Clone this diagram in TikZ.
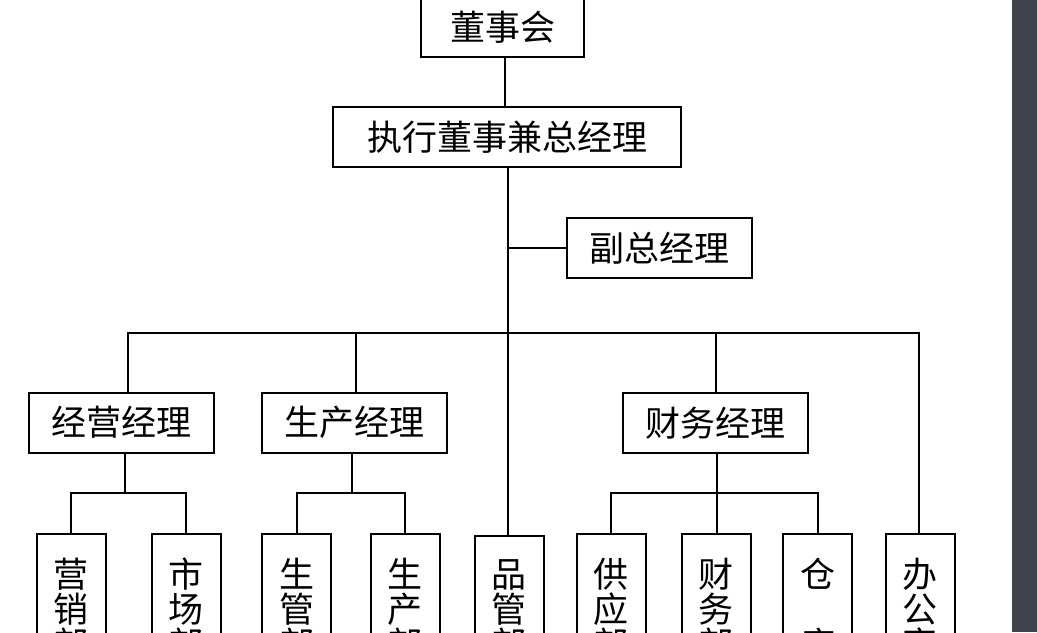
\documentclass[tikz,border=0pt]{standalone}
\usepackage{fontspec}
\newfontfamily\cjk{Noto Sans CJK SC}
\usetikzlibrary{calc}
\definecolor{bandgray}{HTML}{3E434C}
\begin{document}
\begin{tikzpicture}[x=0.75pt,y=-0.75pt,
  box/.style={draw, line width=1.5pt, inner sep=0pt, minimum height=60*0.75pt,
    font=\cjk\fontsize{26.25}{26.25}\selectfont},
  vbox/.style={draw, line width=1.5pt, anchor=north, minimum width=69*0.75pt,
    inner xsep=0pt, inner ysep=18pt, align=center,
    font=\cjk\fontsize{26.25}{26.25}\selectfont},
  conn/.style={line width=1.5pt}]
\fill[white] (0,0) rectangle (1037,632);
\fill[bandgray] (1012,0) rectangle (1037,632);
\useasboundingbox (0,0) rectangle (1037,632);

% top levels
\node[box, minimum width=163*0.75pt] (dsh) at (502.5,27) {董事会};
\node[box, minimum width=348*0.75pt] (zjl) at (507,137) {执行董事兼总经理};
\node[box, minimum width=185*0.75pt] (fzjl) at (659.5,248) {副总经理};
\node[box, minimum width=185*0.75pt] (jy) at (121.8,422.7) {经营经理};
\node[box, minimum width=185*0.75pt] (sc) at (354,422.7) {生产经理};
\node[box, minimum width=185*0.75pt] (cw) at (715.7,422.7) {财务经理};

% bottom departments
\node[vbox] (yx) at (71.3,533) {营\\销\\部\\\phantom{部}\\\phantom{部}};
\node[vbox] (scb) at (186.3,533) {市\\场\\部\\\phantom{部}\\\phantom{部}};
\node[vbox] (sg) at (296.7,533) {生\\管\\部\\\phantom{部}\\\phantom{部}};
\node[vbox] (scd) at (405,533) {生\\产\\部\\\phantom{部}\\\phantom{部}};
\node[vbox] (pg) at (509.3,535) {品\\管\\部\\\phantom{部}\\\phantom{部}};
\node[vbox] (gy) at (611.2,533) {供\\应\\部\\\phantom{部}\\\phantom{部}};
\node[vbox] (cwb) at (716.2,533) {财\\务\\部\\\phantom{部}\\\phantom{部}};
\node[vbox] (ck) at (817.8,533) {仓\\\phantom{仓}\\库\\\phantom{部}\\\phantom{部}};
\node[vbox] (bg) at (920.2,533) {办\\公\\室\\\phantom{部}\\\phantom{部}};

% connectors
\coordinate (bus) at (508,333);
\draw[conn] ([xshift=1.5pt]dsh.south) -- ([xshift=1.5pt]dsh.south |- zjl.north);
\draw[conn] (zjl.south -| bus) -- (pg.north -| bus);
\draw[conn] (fzjl.west) -- (fzjl.west -| bus);
\draw[conn] ([xshift=4.4pt]jy.north) |- (bus) -| ([xshift=-1pt]bg.north);
\draw[conn] ([xshift=1.3pt]sc.north) -- ([xshift=1.3pt]sc.north |- bus);
\draw[conn] (cw.north) -- (cw.north |- bus);

\coordinate (jybus) at (125,493);
\draw[conn] (jy.south -| jybus) -- (jybus);
\draw[conn] (yx.north) |- (jybus) -| (scb.north);

\coordinate (scbus) at (352,493);
\draw[conn] (sc.south -| scbus) -- (scbus);
\draw[conn] (sg.north) |- (scbus) -| (scd.north);

\coordinate (cwbus) at (717,493);
\draw[conn] (cw.south -| cwbus) -- (cwb.north -| cwbus);
\draw[conn] (gy.north) |- (cwbus) -| (ck.north);
\end{tikzpicture}
\end{document}
